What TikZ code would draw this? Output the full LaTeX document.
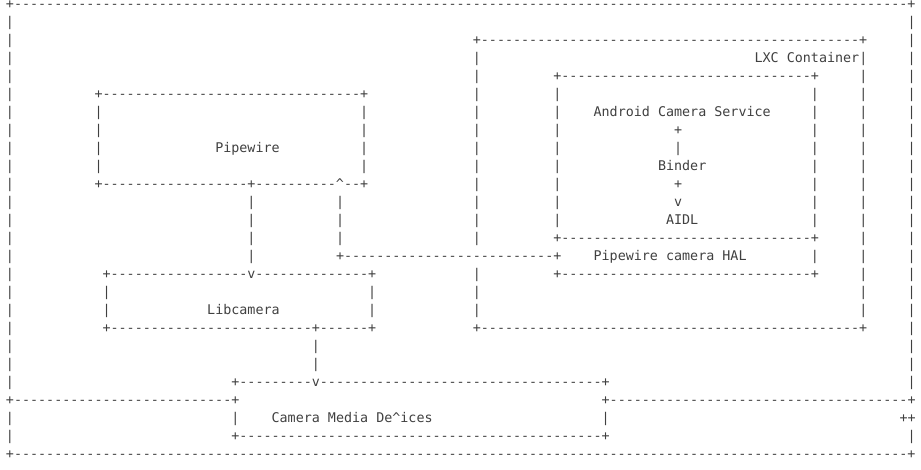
\documentclass[tikz,border=0pt]{standalone}
\usepackage{fontspec}
\newfontfamily\asc{DejaVu Sans Mono}
\ExplSyntaxOn
\cs_new:Npn \D #1 {\prg_replicate:nn{#1}{-}}
\ExplSyntaxOff
\newcommand{\ci}{\char`\^}
\tikzset{asc/.style={anchor=base west,inner sep=0pt,outer sep=0pt,text=black!75,font=\asc\fontsize{13.37pt}{18pt}\selectfont}}
\newcommand{\R}[3]{\node[asc] at ({5.97pt+8.05pt*#2},{469pt-(4pt+18pt*#1)-4.5pt}) {#3};}
\begin{document}
\begin{tikzpicture}
\useasboundingbox (0,0) rectangle (921pt,469pt);
% outer frame
\R{0}{0}{+\D{111}+}
\foreach \r in {1,...,21,24} {\R{\r}{0}{|}}
\foreach \r in {1,...,21,24} {\R{\r}{112}{|}}
\R{22}{0}{+\D{27}+}
\R{22}{74}{+\D{37}+}
\R{23}{0}{|}
\R{23}{111}{++}
\R{25}{0}{+\D{111}+}
% LXC container
\R{2}{58}{+\D{47}+}
\foreach \r in {3,...,13,15,16,17} {\R{\r}{58}{|}}
\foreach \r in {3,...,17} {\R{\r}{106}{|}}
\R{3}{93}{LXC Container}
\R{18}{58}{+\D{47}+}
% inner Android box
\R{4}{68}{+\D{31}+}
\foreach \r in {5,...,12} {\R{\r}{68}{|}}
\foreach \r in {5,...,12,14} {\R{\r}{100}{|}}
\R{6}{73}{Android Camera Service}
\R{7}{83}{+}
\R{8}{83}{|}
\R{9}{81}{Binder}
\R{10}{83}{+}
\R{11}{83}{v}
\R{12}{82}{AIDL}
\R{13}{68}{+\D{31}+}
\R{14}{73}{Pipewire camera HAL}
\R{15}{68}{+\D{31}+}
% Pipewire
\R{5}{11}{+\D{32}+}
\foreach \r in {6,...,9} {\R{\r}{11}{|}\R{\r}{44}{|}}
\R{8}{26}{Pipewire}
\R{10}{11}{+\D{18}+\D{10}\ci\D{2}+}
\foreach \r in {11,...,14} {\R{\r}{30}{|}}
\foreach \r in {11,12,13} {\R{\r}{41}{|}}
\R{14}{41}{+\D{26}+}
% Libcamera
\R{15}{12}{+\D{17}v\D{14}+}
\R{16}{12}{|}\R{16}{45}{|}
\R{17}{12}{|}\R{17}{45}{|}
\R{17}{25}{Libcamera}
\R{18}{12}{+\D{25}+\D{6}+}
\R{19}{38}{|}
\R{20}{38}{|}
% Media devices
\R{21}{28}{+\D{9}v\D{35}+}
\R{23}{28}{|}
\R{23}{33}{Camera Media De\ci ices}
\R{23}{74}{|}
\R{24}{28}{+\D{45}+}
\end{tikzpicture}
\end{document}
